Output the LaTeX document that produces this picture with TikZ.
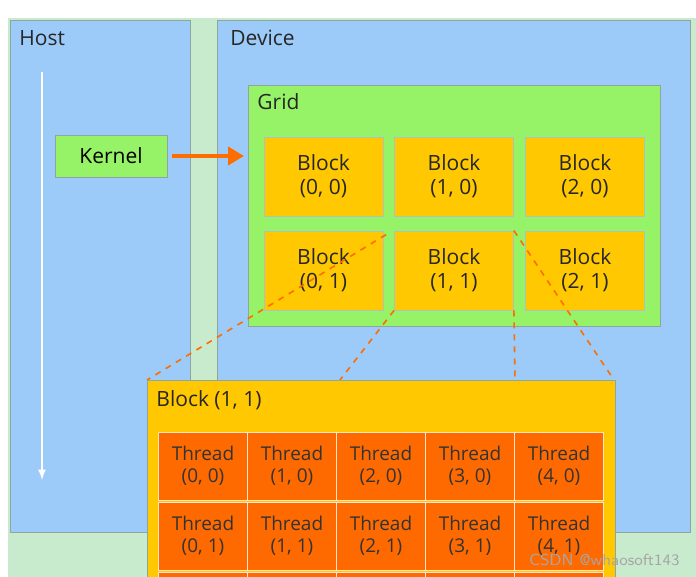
\documentclass[tikz,border=0pt]{standalone}
\usepackage{fontspec}
\setmainfont{Open Sans}
\usetikzlibrary{arrows.meta}
\definecolor{bgGreen}{HTML}{C8EBCE}
\definecolor{hostBlue}{HTML}{9CCBFA}
\definecolor{gridGreen}{HTML}{96F266}
\definecolor{blockYel}{HTML}{FFC800}
\definecolor{thrOrange}{HTML}{FF6A00}
\definecolor{edgeGray}{HTML}{8FA6A0}
\tikzset{
  panel/.style={draw=edgeGray, fill=hostBlue},
  blk/.style={draw=edgeGray!70, fill=blockYel, minimum width=59.5pt, minimum height=39.5pt, align=center, inner sep=0pt, font=\fontsize{10.5}{12}\selectfont, text=black!85},
  thr/.style={draw=white!80!orange, fill=thrOrange, minimum width=44.5pt, minimum height=34pt, align=center, inner sep=0pt, font=\fontsize{9.5}{11}\selectfont, text=black!80},
  lbl/.style={anchor=north west, inner sep=0pt, font=\fontsize{10.5}{12}\selectfont, text=black!85},
  link/.style={dashed, draw=orange!85!red, thick}
}
\begin{document}
\begin{tikzpicture}[x=0.5pt,y=-0.5pt]
\useasboundingbox (0,0) rectangle (696,577);
\fill[bgGreen] (8,18) rectangle (696,577);
\draw[panel] (10,20) rectangle (190,532);
\draw[panel] (217,20) rectangle (690,532);
\node[lbl] (host) at (19,30) {Host};
\node[lbl] (device) at (230,30) {Device};

\draw[white, thick, -latex] (42,72) -- (42,480);

\node (kernel) at (111,156) [draw=edgeGray, fill=gridGreen, minimum width=56pt, minimum height=21pt, inner sep=0pt, font=\fontsize{10.5}{12}\selectfont] {Kernel};
\coordinate (gridIn) at (244,156);
\draw[line width=2pt, draw=orange!85!red, -{Triangle[length=8pt,width=9pt]}] (kernel.east) ++(5,0) -- (gridIn);

\draw[draw=edgeGray, fill=gridGreen] (248,85) rectangle (660,326);
\node[lbl] (grid) at (257,93) {Grid};

% blocks of the grid
\foreach \i/\x in {0/323.5,1/454,2/585}
  \foreach \j/\y in {0/176.5,1/270.5}
    \node[blk] (b\i\j) at (\x,\y) {Block\\(\i, \j)};

\coordinate (bigTL) at (147,380);
\coordinate (bigA) at (340,380);
\coordinate (bigB) at (515,380);
\coordinate (bigTR) at (614,380);
\draw[link] (b11.north west) ++(-8,4) -- (bigTL);
\draw[link] (b11.south west) -- (bigA);
\draw[link] (b11.south east) -- (bigB);
\draw[link] (b11.north east) -- (bigTR);

% expanded block (1, 1)
\draw[draw=edgeGray, fill=blockYel] (147,380) rectangle (615,590);
\node[lbl] (blkTitle) at (156,390) {Block (1, 1)};
\foreach \i in {0,...,4}{
  \foreach \j in {0,1}
    \node[thr] (t\i\j) at (203+89*\i,466+70*\j) {Thread\\(\i, \j)};
  \node[thr] (t\i2) at (203+89*\i,606) {};
}

\node[anchor=south east, inner sep=0pt, text=gray!70, font=\sffamily\fontsize{8}{9}\selectfont] (mark) at (680,566) {CSDN @whaosoft143};
\end{tikzpicture}
\end{document}
